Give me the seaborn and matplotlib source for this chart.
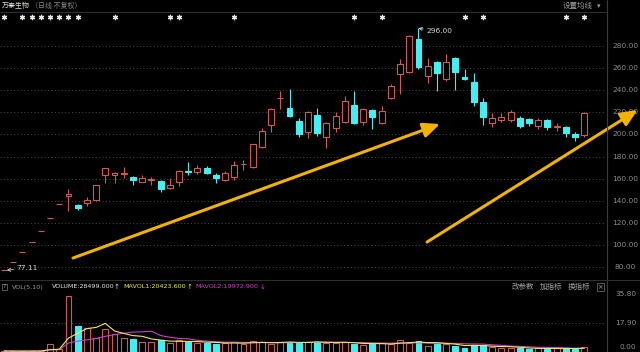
import numpy as np
import pandas as pd
import matplotlib
matplotlib.use("Agg")
import matplotlib.pyplot as plt
import seaborn as sns
from matplotlib.lines import Line2D
from matplotlib.transforms import blended_transform_factory

# ---------------- data ----------------
opens = [77.11, 84.82, 93.30, 102.63, 112.89, 124.18, 136.60, 144.5, 136.0, 138.0,
         140.6, 163.3, 163.5, 164.0, 161.5, 157.0, 158.5, 158.0, 151.5, 157.0,
         167.0, 166.0, 169.6, 163.5, 158.8, 161.5, 173.0, 170.5, 188.6, 208.5,
         232.5, 224.0, 212.0, 202.0, 218.0, 197.6, 206.0, 211.0, 226.6, 211.0,
         222.0, 210.0, 233.0, 254.6, 256.5, 286.0, 253.0, 265.5, 250.0, 269.0,
         251.5, 247.4, 229.0, 210.0, 213.0, 213.0, 215.0, 214.0, 208.0, 213.0,
         207.0, 207.0, 200.0, 199.5]
closes = [77.11, 84.82, 93.30, 102.63, 112.89, 124.18, 136.60, 146.5, 133.4, 140.6,
          154.0, 169.6, 165.0, 165.0, 159.0, 160.5, 159.5, 150.6, 154.0, 167.0,
          166.0, 169.6, 165.0, 160.5, 165.0, 172.0, 173.5, 191.0, 203.0, 223.0,
          233.0, 217.0, 200.0, 220.0, 201.0, 210.0, 216.6, 230.0, 210.0, 223.0,
          216.0, 221.0, 244.0, 263.7, 289.0, 261.0, 262.0, 255.6, 265.5, 256.5,
          250.5, 229.0, 215.7, 215.0, 216.0, 220.0, 208.0, 210.0, 213.0, 207.0,
          208.0, 201.0, 198.0, 219.5]
highs = [77.11, 84.82, 93.30, 102.63, 112.89, 124.18, 136.60, 150.7, 137.0, 143.5,
         154.5, 170.0, 166.0, 170.5, 162.0, 163.0, 161.0, 159.0, 160.5, 168.0,
         175.0, 172.0, 171.0, 165.0, 167.0, 176.0, 177.0, 191.5, 205.8, 224.0,
         239.0, 241.0, 215.0, 221.0, 224.0, 211.0, 220.0, 234.7, 239.0, 224.0,
         223.0, 226.0, 246.0, 268.0, 290.0, 296.0, 269.0, 266.5, 272.7, 270.0,
         259.0, 255.5, 233.0, 219.0, 219.0, 222.0, 217.0, 215.0, 215.0, 214.0,
         210.0, 208.0, 202.0, 220.0]
lows = [77.11, 84.82, 93.30, 102.63, 112.89, 124.18, 136.60, 130.7, 131.5, 135.0,
        140.0, 156.0, 156.0, 160.5, 154.0, 156.5, 154.5, 148.0, 150.6, 153.0,
        163.0, 164.0, 164.0, 156.0, 158.0, 159.0, 168.0, 170.0, 188.0, 202.0,
        223.0, 216.0, 197.6, 197.0, 199.0, 188.0, 202.0, 210.0, 209.0, 208.5,
        205.0, 209.0, 232.0, 236.6, 256.0, 259.0, 246.5, 239.0, 248.0, 240.0,
        249.0, 225.7, 208.5, 207.0, 211.0, 211.0, 206.0, 208.0, 205.0, 204.0,
        203.0, 198.0, 194.0, 198.0]
volumes = [0.3, 0.2, 0.2, 0.3, 0.4, 4.7, 1.5, 34.6, 15.9, 14.6,
           8.4, 14.0, 10.9, 8.4, 7.8, 6.2, 5.9, 7.2, 5.3, 7.2,
           5.9, 5.3, 5.3, 4.7, 5.3, 5.9, 4.7, 6.5, 5.9, 4.7,
           6.2, 6.2, 5.3, 5.9, 6.2, 5.3, 5.3, 5.9, 4.7, 4.0,
           4.7, 5.3, 4.7, 7.2, 5.6, 6.8, 3.4, 4.7, 4.7, 3.4,
           2.2, 4.0, 4.0, 3.0, 2.2, 1.9, 2.0, 1.8, 1.9, 1.8,
           1.9, 1.9, 1.8, 2.85]
star_idx = [0, 2, 3, 4, 5, 6, 7, 8, 12, 18, 19, 25, 38, 41, 50, 52, 61, 63]
price_ticks = [80, 100, 120, 140, 160, 180, 200, 220, 240, 260, 280]
price_tick_labels = ["80.00", "100.00", "120.00", "140.00", "160.00", "180.00",
                     "200.00", "220.00", "240.00", "260.00", "280.00"]
vol_ticks = [35.80, 17.90, 0.00]
vol_tick_labels = ["35.80", "17.90", "0.00"]
high_idx, high_val = 45, 296.00
low_idx, low_val = 0, 77.11

# ---------------- style ----------------
BG = "#000000"
RED = "#d25858"
CYAN = "#45eef0"
GRID = "#4c4c4c"
LAB = "#8e8e8e"
YEL = "#ecec5a"
MAG = "#cc3fcc"
ARROW = "#f2b200"

sns.set_style("dark", {"axes.facecolor": BG, "figure.facecolor": BG})
plt.rcParams["font.family"] = ["DejaVu Sans"]
CJK = ["Noto Sans CJK SC", "DejaVu Sans"]

W, H = 640, 352
fig = plt.figure(figsize=(6.4, 3.52), dpi=100, facecolor=BG)


def rect(x0, y0, x1, y1):
    return [x0 / W, 1 - y1 / H, (x1 - x0) / W, (y1 - y0) / H]


def ftext(x, y, s, **kw):
    kw.setdefault("va", "center")
    kw.setdefault("ha", "left")
    return fig.text(x / W, 1 - y / H, s, **kw)


ax = fig.add_axes(rect(0, 12, 606, 279))
axv = fig.add_axes(rect(0, 280, 606, 352))
for a in (ax, axv):
    a.set_facecolor(BG)
    for s in a.spines.values():
        s.set_visible(False)
    a.set_xticks([])
    a.set_yticks([])
    a.grid(False)

df = pd.DataFrame({"o": opens, "c": closes, "h": highs, "l": lows, "v": volumes})
df["i"] = np.arange(len(df))
up = df["c"] >= df["o"]
edge = np.where(up, RED, CYAN)
fill = np.where(up, BG, CYAN)
top = df[["o", "c"]].max(axis=1)
bot = df[["o", "c"]].min(axis=1)

# grid
for p in price_ticks:
    ax.axhline(p, color=GRID, ls=(0, (1, 2.5)), lw=0.7, zorder=0)
axv.axhline(17.90, color=GRID, ls=(0, (1, 2.5)), lw=0.7, zorder=0)

# candles
ax.vlines(df["i"], top, df["h"], colors=edge, lw=0.8, zorder=2)
ax.vlines(df["i"], df["l"], bot, colors=edge, lw=0.8, zorder=2)
ax.bar(df["i"], top - bot, bottom=bot, width=0.64, color=fill, edgecolor=edge,
       linewidth=0.8, zorder=3)

ax.set_xlim(-0.434, 65.36)
ax.set_ylim(69.14, 310.77)

# volume
axv.bar(df["i"], df["v"], width=0.64, color=fill, edgecolor=edge, linewidth=0.8, zorder=2)
ma5 = df["v"].rolling(5, min_periods=1).mean()
ma10 = df["v"].rolling(10, min_periods=1).mean()
sns.lineplot(x=df["i"], y=ma10, ax=axv, color=MAG, lw=0.8, legend=False, zorder=3)
sns.lineplot(x=df["i"], y=ma5, ax=axv, color=YEL, lw=0.8, legend=False, zorder=4)
axv.set_xlim(-0.434, 65.36)
axv.set_ylim(-0.31, 44.52)
axv.set_xlabel("")
axv.set_ylabel("")

# right axis labels
bt = blended_transform_factory(fig.transFigure, ax.transData)
for p, s in zip(price_ticks, price_tick_labels):
    ax.text(625 / W, p, s, transform=bt, ha="center", va="center", fontsize=5.3,
            color=LAB, clip_on=False)
ftext(626, 294, vol_tick_labels[0], ha="center", fontsize=5.3, color=LAB)
ftext(626, 323, vol_tick_labels[1], ha="center", fontsize=5.3, color=LAB)
ftext(628, 347, vol_tick_labels[2], ha="center", fontsize=5.3, color=LAB)

# separators
def fline(x0, y0, x1, y1, c="#3a3a3a", lw=0.8):
    fig.add_artist(Line2D([x0 / W, x1 / W], [1 - y0 / H, 1 - y1 / H], color=c, lw=lw))

fline(0, 12, 606, 12, "#2e2e2e")
fline(606.5, 0, 606.5, 352, "#3c3c3c")
fline(0, 280, 640, 280, "#2e2e2e")

# header
ftext(2, 6, "万泰生物", fontsize=5.0, color="#e2e2d0", family=CJK)
ftext(31, 6, "（日线 不复权）", fontsize=5.0, color="#8a8a8a", family=CJK)
ftext(563, 6, "设置均线", fontsize=5.4, color="#a0a0a0", family=CJK)
ftext(597, 6, "▾", fontsize=5, color="#a0a0a0")

# star markers
st = blended_transform_factory(ax.transData, ax.transAxes)
ax.plot(star_idx, [0.981] * len(star_idx), transform=st, ls="none",
        marker=(6, 2, 0), ms=3.8, mew=0.9, color="#e8e8e8", clip_on=False)

# high / low labels
ax.annotate(f"{high_val:.2f}", xy=(high_idx, high_val), xytext=(8, -3),
            textcoords="offset pixels", fontsize=5.3, color="#d8d8d8", va="center",
            arrowprops=dict(arrowstyle="->", color="#d8d8d8", lw=0.6, shrinkA=0, shrinkB=0))
ax.annotate(f"{low_val:.2f}", xy=(low_idx + 0.3, low_val), xytext=(10, 2),
            textcoords="offset pixels", fontsize=5.3, color="#d8d8d8", va="center",
            arrowprops=dict(arrowstyle="->", color="#d8d8d8", lw=0.6, shrinkA=0, shrinkB=0))

# drawn trend arrows
for (x0, y0), (x1, y1) in [((7.49, 88.1), (47.34, 209.4)), ((45.93, 102.6), (68.8, 222.1))]:
    ax.annotate("", xy=(x1, y1), xytext=(x0, y0), annotation_clip=False,
                arrowprops=dict(arrowstyle="-|>,head_length=0.5,head_width=0.22",
                                color=ARROW, lw=2.2, mutation_scale=20,
                                shrinkA=0, shrinkB=0, clip_on=False), zorder=6)

# volume header
ftext(2.5, 287, "?", fontsize=4.4, color="#9a9a9a",
      bbox=dict(boxstyle="square,pad=0.15", fc="none", ec="#7a7a7a", lw=0.5))
ftext(12, 287, "VOL(5,10)", fontsize=4.6, color="#9a9a9a")
ftext(52, 287, "VOLUME:28499.000", fontsize=4.6, color="#e6e6e6")
ftext(114, 287, "↑", fontsize=5, color="#e6e6e6")
ftext(123, 287, "MAVOL1:20423.600", fontsize=4.6, color=YEL)
ftext(187, 287, "↑", fontsize=5, color=YEL)
ftext(195, 287, "MAVOL2:19972.900", fontsize=4.6, color=MAG)
ftext(260, 287, "↓", fontsize=5, color=MAG)
ftext(512, 287, "改参数", fontsize=5.4, color="#a0a0a0", family=CJK)
ftext(540, 287, "加指标", fontsize=5.4, color="#a0a0a0", family=CJK)
ftext(568, 287, "换指标", fontsize=5.4, color="#a0a0a0", family=CJK)
ftext(597.5, 287, "×", fontsize=4.8, color="#a0a0a0",
      bbox=dict(boxstyle="square,pad=0.1", fc="none", ec="#7a7a7a", lw=0.5))

fig.savefig("out.png", dpi=100, facecolor=BG)
